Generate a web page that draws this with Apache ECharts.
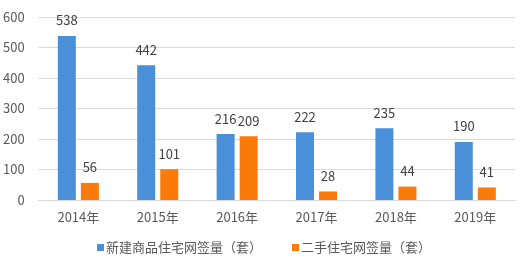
<!DOCTYPE html>
<html>
<head>
<meta charset="utf-8">
<script src="https://cdn.jsdelivr.net/npm/echarts@6/dist/echarts.min.js"></script>
<style>
  html, body { margin: 0; padding: 0; background: #fff; }
</style>
</head>
<body>
<!-- 图表容器 -->
<div id="main" style="width: 529px;height:271px;"></div>

<script type="text/javascript">
    // 数据
    var years = ['2014年', '2015年', '2016年', '2017年', '2018年', '2019年'];
    var newHouse = [538, 442, 216, 222, 235, 190];
    var secondHand = [56, 101, 209, 28, 44, 41];
    var seriesNames = ['新建商品住宅网签量（套）', '二手住宅网签量（套）'];

    var myChart = echarts.init(document.getElementById('main'));

    var font = '"Noto Sans CJK SC", "DejaVu Sans", sans-serif';

    var option = {
        animation: false,
        textStyle: { fontFamily: font },
        // 图例
        legend: {
            data: seriesNames,
            bottom: 12,
            left: 92,
            itemWidth: 7,
            itemHeight: 7,
            itemGap: 30,
            icon: 'rect',
            textStyle: { fontSize: 13, color: '#595959', fontFamily: font, padding: [0, 0, 0, -3] }
        },
        grid: {
            left: 38,
            right: 14,
            top: 17,
            bottom: 71
        },
        xAxis: {
            type: 'category',
            data: years,
            axisLine: { lineStyle: { color: '#d9d9d9' } },
            axisTick: { show: false },
            axisLabel: { color: '#595959', fontSize: 13, margin: 11, fontFamily: font }
        },
        yAxis: {
            type: 'value',
            min: 0,
            max: 600,
            interval: 100,
            axisLine: { show: false },
            axisTick: { show: false },
            axisLabel: { color: '#595959', fontSize: 13, margin: 14, fontFamily: font },
            splitLine: { lineStyle: { color: '#d9d9d9' } }
        },
        series: [{
            name: seriesNames[0],
            type: 'bar',
            data: newHouse,
            barWidth: 18,
            barGap: '28%',
            itemStyle: { color: '#4a90d9' },
            label: { show: true, position: 'top', distance: 9, color: '#404040', fontSize: 13, fontFamily: font }
        }, {
            name: seriesNames[1],
            type: 'bar',
            data: secondHand,
            barWidth: 18,
            itemStyle: { color: '#fa7a0a' },
            label: { show: true, position: 'top', distance: 9, color: '#404040', fontSize: 13, fontFamily: font }
        }]
    };

    myChart.setOption(option);
</script>
</body>
</html>
